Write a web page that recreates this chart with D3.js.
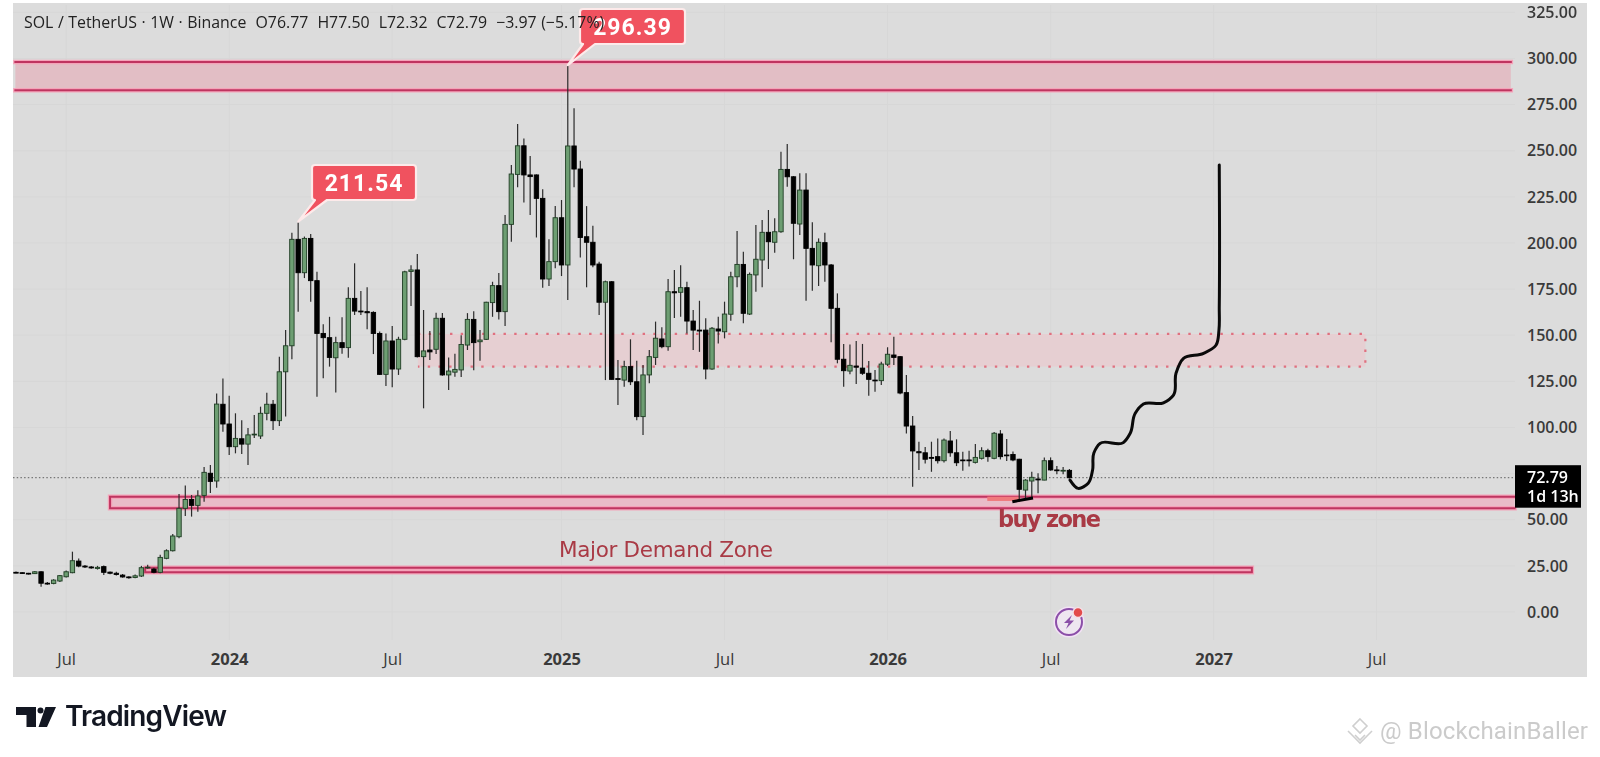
<!DOCTYPE html>
<html>
<head>
<meta charset="utf-8">
<script src="https://cdn.jsdelivr.net/npm/d3@7"></script>
<style>
  html, body { margin: 0; padding: 0; background: #fff; overflow: hidden; }
  svg { display: block; filter: blur(0.45px); }
  text { font-family: "Open Sans", sans-serif; }
</style>
</head>
<body>
<svg id="chart" width="1600" height="757"></svg>
<script>
// weekly candles, index 0 is the first bar on the left
const opens = [21.5,21.3,21,20.8,21.8,15.6,15.5,16.8,19.1,21.3,27.6,24.9,24.4,23.6,24.6,21.6,21,20,19,18.7,
  19.5,24,23.3,21.5,29.1,33.2,40.8,56.2,61,57.8,63.2,75.2,71,112.6,101.9,89.6,93.9,91,96,95.4,
  107.7,112.6,103.7,130.2,144.3,202,183.9,202.5,179.6,151,148.7,137.8,146,143.3,170,163.1,162.8,162.4,151,128.8,
  146.9,131.7,147.8,184.6,185.4,138.4,142,142.4,159.2,128.5,130,131.2,144.7,158.6,146.5,147.8,167.7,176.9,162.8,210.1,
  237.2,252.7,236.9,236.9,224.2,180.5,189.9,213.7,188.1,252.6,240.1,203.4,200.4,188.6,167.9,179,126.5,125.7,133,124.8,
  105.9,128.5,138,148,143.8,173.6,173.3,175.8,157.7,152.8,152.8,131.7,153.4,151.9,161.4,181.7,188.4,161.5,182.7,190.8,
  205.8,200.4,206.1,239.9,235.9,210.3,228.7,197.1,187.7,200.2,188.1,164.6,137,130.6,133.3,132.2,129.4,125.7,125.4,134.3,
  139.3,138.4,118.9,100.8,86.9,86.3,83.8,84.2,82,92.7,86.3,82.4,82.4,81.1,83.3,87.4,83.3,96.5,85.1,85.4,
  82.8,66.1,71,72.1,71.5,82,77,76.8,76.77];
const highs = [22,21.6,21.2,22.2,22.1,16.2,17.8,20,22.5,32.7,29,25.5,25,25,25.2,22,21.8,20.6,19.4,20.3,
  25,25.6,24,31,34,42.3,64,68.5,63.4,66,78.6,79.7,118.5,126.6,117.2,107.7,104,99.7,106.8,111.3,
  118.9,114.9,138.4,152.8,205.6,211.54,203.5,204.9,184.4,156,160,149.2,159.7,176,189,174,176,163,152,151,
  155,149.2,185,188,194,163.7,152.3,162.2,162,138,140,150,162,163,152.8,168.2,179,183.7,215.2,242.3,
  264.5,256.7,247.2,237.2,229.1,202,220,223.3,296.39,273,244.6,220,209.4,189.9,179.6,179.4,136.6,136.2,147.8,136.2,
  133.9,142,157.4,154.3,180.5,185.4,188,179,163.7,168.7,159.2,154.5,160,168.2,184.4,206.5,195.3,184,209.8,212.5,
  217.9,213.4,249.5,253.7,236.3,237.8,237.8,211.2,202.5,205.6,188.6,172.7,145.3,145,146.9,145.3,136,131.2,135.7,143.5,
  149.2,138.8,128.5,106.2,92.3,89.4,92.3,94.1,94.1,98.1,93.6,86.9,87.4,91,89.3,88.5,97.5,98.6,93.8,87,
  83,72,76,75.2,83.8,83.8,79.1,78.6,77.5];
const lows = [21,20.6,20.3,20.6,13.7,14.8,15,16.3,18.7,21,24.3,23.8,23.4,23,20,20.5,19.8,18.6,18,18.3,
  19,23.4,21,21,28.6,32.8,40,52,51.7,54.4,59.8,64.5,67.4,97.7,85.1,86,85.6,79.7,94.3,93.8,
  104,98.6,100.8,105.9,137,162.8,181,168.2,116.7,126.7,133,119,140,137.8,161,161,153.2,139.8,128.5,122.5,
  121.8,128.5,147.3,165.9,138,110.4,136.6,139.8,128,120.3,127.5,127.4,142,131,136.2,147.4,160,158.6,155,200.7,
  230.2,221.9,215.2,203,175.8,176.7,186.3,182.1,169.1,230.2,192.2,176,186.8,161,125.7,126,112.2,122.1,123,104,
  95.9,124,133.9,143,141.6,159.3,160,151,142,141,126.1,131.3,145.6,148.3,157.9,176,156.5,161,173.6,176,
  185.9,194.7,205.6,230.5,191.2,204.3,168.7,174.1,176.7,179,146.2,134.8,122.1,128.8,123.6,128.5,117.2,119.4,123,133.3,
  133.9,118,96.8,67.9,77,80.5,76,80.5,81,84.2,79.1,76.6,78.8,80.5,82.7,81.5,82.8,82.7,81.8,81.7,
  59.8,60.7,62.3,64.3,71.4,76.6,74.6,74.6,72.32];
const closes = [21.3,21,20.6,21.8,15.6,15.5,17.3,19.7,21.8,27.8,24.9,24.4,23.9,24.2,21.5,21,20.3,19,18.7,19.6,
  24,24.3,21.5,29.6,33.2,41.2,56.2,61,57.8,62.9,75.7,70.8,112.7,101.9,89.6,94.1,91,96,96.4,107.7,
  112.6,103.7,130.2,144.3,202,183.9,202.5,179.6,151,148.7,138,146,143.3,170,163.1,162.8,162.2,151,128.8,146.9,
  131.7,147.8,184.4,185.4,138.4,141.5,141,159.2,128.5,130.6,131.5,145,158.6,146,147.4,167.9,176.9,162.8,210.1,237.4,
  252.7,236.9,236,224.2,180.5,189.9,213.7,188.1,252.6,240.1,203,200.4,188.1,167.9,179,126.1,126.1,133,124.8,105.9,
  128.5,138.4,148.4,143.8,173.6,173,175.8,157.7,152.8,152.3,131.7,153.8,152.3,161.5,181.7,188.4,161.9,183,191.2,205.8,
  200.7,206.1,239.9,235.9,210.7,228.7,197.1,188.1,200.4,188.1,164.6,137,130.8,133.7,132.7,129.4,126.1,125.4,134.4,139.7,
  138,118.7,100.8,87.3,86.3,82.8,83.3,82,93.2,86.3,80.9,82,82,83.8,87.4,84.2,96.9,84.2,84.7,82.4,
  66.5,71.5,73,71.6,82,77,76.6,76.8,72.79];

const priceTicks = [0,25,50,100,125,150,175,200,225,250,275,300,325];
const gridPrices = [0,25,50,75,100,125,150,175,200,225,250,275,300,325];
const timeTickWeeks = [8,34,60,87,113,139,165,191,217];
const timeTickLabels = ['Jul','2024','Jul','2025','Jul','2026','Jul','2027','Jul'];

// zones: start/end in weeks, top/bottom in price
const zoneStart = [-0.1,15,20.6];
const zoneEnd = [238.4,239,197.1];
const zoneTop = [298.1,62.5,24];
const zoneBottom = [282.8,56.2,21.5];
const zoneFill = ['#e2bec5','#e9bcc8','#ee6f9b'];
// which sides carry an outline: top band only has its two long lines
const zoneLeftEdge = [false,true,true];
const zoneRightEdge = [false,false,true];

const dottedZone = [64.1,215.2,150.7,133];

// hand drawn projection: [week, price]
const projection = [[168.1,71.5],[169.4,67],[171,69.8],[171.7,77],[171.9,86.2],[172.9,91.4],[176.6,91.8],
  [177.7,96.9],[178.5,107.7],[179.8,112.7],[183,113.4],[184.6,117.6],[185,129.4],[186.2,137.5],[189.4,140.2],
  [191.4,144.7],[191.85,152.8],[191.9,165],[191.9,242.3]];

const lastPrice = 72.79;

const panel = { left: 13, right: 1587, top: 3, bottom: 677, plotRight: 1515 };
const x = d3.scaleLinear().domain([0, 168]).range([16, 1069.4]);
const y = d3.scaleLinear().domain([0, 325]).range([612, 12.4]);

const svg = d3.select('#chart');

svg.append('rect')
  .attr('x', panel.left).attr('y', panel.top)
  .attr('width', panel.right - panel.left).attr('height', panel.bottom - panel.top)
  .attr('fill', '#dcdcdc');

// grid
const grid = svg.append('g').attr('stroke', '#d7d7d7').attr('stroke-width', 1);
grid.selectAll('.h').data(gridPrices).enter().append('line')
  .attr('x1', panel.left).attr('x2', panel.plotRight)
  .attr('y1', d => y(d)).attr('y2', d => y(d));
grid.selectAll('.v').data(timeTickWeeks).enter().append('line')
  .attr('x1', d => x(d)).attr('x2', d => x(d))
  .attr('y1', panel.top + 2).attr('y2', 640);

// dotted zone
const dz = svg.append('g');
dz.append('rect')
  .attr('x', x(dottedZone[0])).attr('width', x(dottedZone[1]) - x(dottedZone[0]))
  .attr('y', y(dottedZone[2])).attr('height', y(dottedZone[3]) - y(dottedZone[2]))
  .attr('fill', '#e6cfd2');
dz.append('path')
  .attr('d', `M${x(dottedZone[0])},${y(dottedZone[2])}H${x(dottedZone[1])}V${y(dottedZone[3])}H${x(dottedZone[0])}`)
  .attr('fill', 'none').attr('stroke', '#e0707f').attr('stroke-width', 2.2)
  .attr('stroke-dasharray', '2.4 8.3');

// current price line
svg.append('line')
  .attr('x1', panel.left).attr('x2', panel.plotRight)
  .attr('y1', y(lastPrice)).attr('y2', y(lastPrice))
  .attr('stroke', '#777').attr('stroke-width', 1.2).attr('stroke-dasharray', '1.5 2.2');

// pink zones
function zoneOutline(i) {
  const x0 = x(zoneStart[i]), x1 = x(zoneEnd[i]), y0 = y(zoneTop[i]), y1 = y(zoneBottom[i]);
  let d = `M${x0},${y0}H${x1}M${x0},${y1}H${x1}`;
  if (zoneLeftEdge[i]) d += `M${x0},${y0}V${y1}`;
  if (zoneRightEdge[i]) d += `M${x1},${y0}V${y1}`;
  return d;
}
const zones = svg.append('g').selectAll('g').data(d3.range(zoneStart.length)).enter().append('g');
zones.append('rect')
  .attr('x', i => x(zoneStart[i])).attr('width', i => x(zoneEnd[i]) - x(zoneStart[i]))
  .attr('y', i => y(zoneTop[i])).attr('height', i => y(zoneBottom[i]) - y(zoneTop[i]))
  .attr('fill', i => zoneFill[i]);
zones.append('path').attr('d', zoneOutline)
  .attr('fill', 'none').attr('stroke', '#f4a3b9').attr('stroke-width', 4.5).attr('stroke-linecap', 'square');
zones.append('path').attr('d', zoneOutline)
  .attr('fill', 'none').attr('stroke', '#bf3560').attr('stroke-width', 2).attr('stroke-linecap', 'square');

// small red box and marker stroke in the buy zone
svg.append('rect')
  .attr('x', x(154.9)).attr('width', x(160.1) - x(154.9))
  .attr('y', y(62.5)).attr('height', y(60.2) - y(62.5))
  .attr('fill', '#f0797c');

// candles
const candles = svg.append('g').selectAll('g').data(d3.range(opens.length)).enter().append('g');
candles.append('line')
  .attr('x1', i => x(i)).attr('x2', i => x(i))
  .attr('y1', i => y(highs[i])).attr('y2', i => y(lows[i]))
  .attr('stroke', '#2b2b2b').attr('stroke-width', 1.2);
candles.append('rect')
  .attr('x', i => x(i) - 2.2).attr('width', 4.4)
  .attr('y', i => y(Math.max(opens[i], closes[i])))
  .attr('height', i => Math.max(0.8, Math.abs(y(opens[i]) - y(closes[i]))))
  .attr('fill', i => closes[i] >= opens[i] ? '#6d9e72' : '#000')
  .attr('stroke', i => closes[i] >= opens[i] ? '#1f3d24' : '#000')
  .attr('stroke-width', 0.9);

svg.append('path')
  .attr('d', d3.line().x(d => x(d[0])).y(d => y(d[1]))([[158.9,59.8],[162.2,61.8]]))
  .attr('stroke', '#000').attr('stroke-width', 3).attr('fill', 'none');

// projection curve
svg.append('path')
  .datum(projection)
  .attr('d', d3.line().x(d => x(d[0])).y(d => y(d[1])).curve(d3.curveCatmullRom.alpha(1)))
  .attr('fill', 'none').attr('stroke', '#0a0a0a').attr('stroke-width', 3).attr('stroke-linecap', 'round');

// axes
const yAxis = d3.axisRight(y).tickValues(priceTicks).tickSize(0).tickPadding(12).tickFormat(d3.format('.2f'));
const yg = svg.append('g').attr('transform', `translate(${panel.plotRight},0)`).call(yAxis);
yg.select('.domain').remove();
yg.selectAll('text').attr('font-size', 16).attr('font-weight', 600).attr('fill', '#3a3a3a')
  .style('font-family', '"Open Sans", sans-serif');

const xAxis = d3.axisBottom(x).tickValues(timeTickWeeks).tickSize(0).tickPadding(0)
  .tickFormat((d, i) => timeTickLabels[i]);
const xg = svg.append('g').attr('transform', 'translate(0,653)').call(xAxis);
xg.select('.domain').remove();
xg.selectAll('text').attr('font-size', 16.5).attr('fill', '#3a3a3a')
  .attr('font-weight', d => timeTickLabels[timeTickWeeks.indexOf(d)] === 'Jul' ? 500 : 700)
  .style('font-family', '"Open Sans", sans-serif');

// last price tag
svg.append('rect').attr('x', panel.plotRight).attr('y', y(lastPrice) - 12.5)
  .attr('width', 66).attr('height', 42.5).attr('fill', '#000');
svg.append('text').attr('x', 1527).attr('y', y(lastPrice) + 5.5)
  .attr('fill', '#fff').attr('font-size', 16).attr('font-weight', 600).text('72.79');
svg.append('text').attr('x', 1527).attr('y', y(lastPrice) + 24.5)
  .attr('fill', '#fff').attr('font-size', 16).attr('font-weight', 600).text('1d 13h');

// callouts pointing at the two highs
function callout(week, price, left, top, width, height, label) {
  const px = x(week), py = y(price);
  const g = svg.append('g');
  g.append('path')
    .attr('d', `M${left + 3},${top}H${left + width - 3}Q${left + width},${top} ${left + width},${top + 3}` +
      `V${top + height - 3}Q${left + width},${top + height} ${left + width - 3},${top + height}` +
      `H${left + 15}L${px},${py}L${left + 3},${top + height}Q${left},${top + height} ${left},${top + height - 3}` +
      `V${top + 3}Q${left},${top} ${left + 3},${top}Z`)
    .attr('fill', '#f0525f').attr('stroke', '#fdeaea').attr('stroke-width', 2.2).attr('stroke-linejoin', 'round');
  g.append('text')
    .attr('x', left + width / 2).attr('y', top + height / 2 + 8.5)
    .attr('text-anchor', 'middle').attr('fill', '#fff')
    .attr('font-size', 23).attr('font-weight', 700).attr('letter-spacing', 1)
    .style('font-family', 'Roboto, sans-serif')
    .text(label);
}
callout(88, 296.39, 580, 9, 105, 35, '296.39');
callout(45, 211.54, 312, 165, 104, 35, '211.54');

// header sits over the callout
svg.append('text').attr('x', 24).attr('y', 28)
  .attr('font-size', 15.9).attr('fill', '#222').attr('xml:space', 'preserve').style('white-space', 'pre')
  .style('word-spacing', '0.4px')
  .text('SOL / TetherUS · 1W · Binance  O76.77  H77.50  L72.32  C72.79  −3.97 (−5.17%)');

// drawn labels
svg.append('text').attr('x', 559).attr('y', 557)
  .attr('font-size', 21.5).attr('fill', '#a93a45')
  .style('font-family', '"DejaVu Sans", sans-serif').attr('textLength', 214)
  .text('Major Demand Zone');
svg.append('text').attr('x', 998).attr('y', 527)
  .attr('font-size', 22.5).attr('font-weight', 700).attr('fill', '#a93a45')
  .style('font-family', '"DejaVu Sans", sans-serif').attr('textLength', 103)
  .text('buy zone');

// purple bolt icon
const icon = svg.append('g').attr('transform', 'translate(1069,622)');
icon.append('circle').attr('r', 13.5).attr('fill', '#eee6f0').attr('stroke', '#f3e2f6').attr('stroke-width', 4);
icon.append('circle').attr('r', 13).attr('fill', 'none').attr('stroke', '#8b4fa8').attr('stroke-width', 2);
icon.append('path').attr('d', 'M3,-7L-5,1H-0.5L-3,7L5,-1.5H0.5Z').attr('fill', '#8b4fa8');
icon.append('circle').attr('cx', 9).attr('cy', -9.5).attr('r', 5).attr('fill', '#e34b4b').attr('stroke', '#f3dfe6').attr('stroke-width', 1.5);

// TradingView logo
svg.append('path').attr('d', 'M16,707H36V727H26.5V715H16ZM45.5,707H56L47,727H38.5Z').attr('fill', '#131722');
svg.append('circle').attr('cx', 40.5).attr('cy', 710.5).attr('r', 3).attr('fill', '#131722');
svg.append('text').attr('x', 65).attr('y', 726)
  .attr('font-size', 28).attr('font-weight', 600).attr('fill', '#131722')
  .style('font-family', 'Inter, sans-serif').attr('textLength', 162)
  .text('TradingView');

// watermark
const mark = svg.append('g').attr('transform', 'translate(1360,731)').attr('fill', 'none').attr('stroke', '#cfcfcf').attr('stroke-width', 1.6);
mark.append('path').attr('d', 'M0,-12L7,-5L0,2L-7,-5ZM-12,0L-7,5L0,12L7,5L12,0M-5,4L0,9L5,4');
svg.append('text').attr('x', 1380).attr('y', 739)
  .attr('font-size', 24).attr('fill', '#cbcbcb')
  .style('font-family', 'Roboto, sans-serif').attr('textLength', 208)
  .text('@ BlockchainBaller');
</script>
</body>
</html>
